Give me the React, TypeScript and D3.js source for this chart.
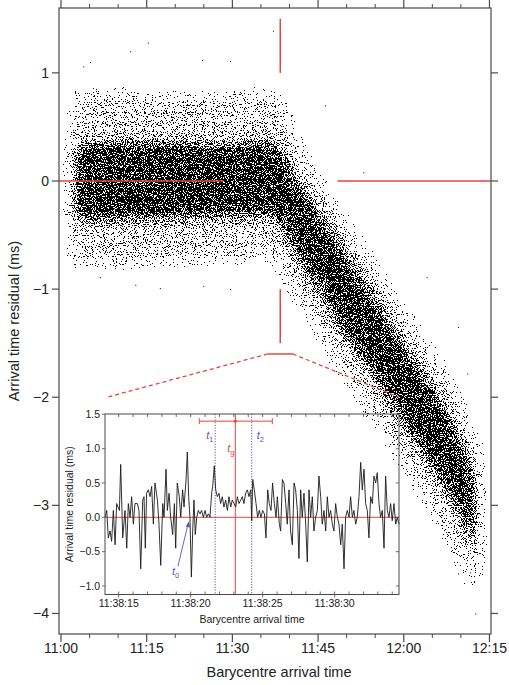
import * as d3 from 'd3';

// Main panel: envelope of the residual cloud (minutes after 11:00, ms)
const bandMinutes = [2.3, 8, 15, 22, 28, 34, 37, 39, 41, 43.5, 48.3, 54.1, 60, 63, 67.6, 70.4, 72.1, 72.8];
const outerHi = [0.78, 0.8, 0.78, 0.76, 0.76, 0.8, 0.78, 0.62, 0.36, 0.12, -0.28, -0.74, -1.22, -1.46, -1.84, -2.16, -2.4, -2.45];
const coreHi = [0.35, 0.36, 0.36, 0.35, 0.34, 0.36, 0.36, 0.24, 0.04, -0.16, -0.54, -1.02, -1.52, -1.76, -2.14, -2.45, -2.68, -2.75];
const coreLo = [-0.38, -0.36, -0.36, -0.34, -0.33, -0.32, -0.32, -0.46, -0.66, -0.86, -1.3, -1.75, -2.24, -2.48, -2.88, -3.14, -3.4, -3.45];
const outerLo = [-0.76, -0.76, -0.74, -0.72, -0.71, -0.7, -0.7, -0.84, -1.04, -1.24, -1.66, -2.1, -2.6, -2.84, -3.24, -3.54, -3.74, -3.78];

// Stray points outside the cloud
const outlierMinutes = [3.9, 5.1, 12.1, 15.2, 24.7, 29.6, 37.1, 46.2, 52.9, 64.0, 69.5, 71.1, 6.8, 13.0, 17.3, 24.9, 29.6, 69.5, 71.6, 72.5];
const outlierValues = [1.06, 1.1, 1.2, 1.28, 1.12, 1.11, 1.39, 0.7, 0.08, -0.89, -1.35, -1.78, -0.89, -0.96, -0.99, -0.97, -1.0, -3.63, -3.62, -4.0];

const mainXTicks = [0, 15, 30, 45, 60, 75];
const mainXLabels = ['11:00', '11:15', '11:30', '11:45', '12:00', '12:15'];
const mainXMinor = [5, 10, 20, 25, 35, 40, 50, 55, 65, 70];
const mainYTicks = [1, 0, -1, -2, -3, -4];

// Inset: seconds after 11:38:00, residual (ms)
const insetSeconds = [14.05, 14.17, 14.28, 14.40, 14.51, 14.63, 14.75, 14.86, 15.05, 15.14, 15.28, 15.44, 15.56, 15.67, 15.79, 15.90, 16.02, 16.13, 16.30, 16.41, 16.53, 16.67, 16.76, 16.85, 16.94, 17.06, 17.18, 17.29, 17.41, 17.52, 17.69, 17.80, 17.92, 18.06, 18.15, 18.29, 18.38, 18.50, 18.61, 18.75, 18.87, 18.96, 19.07, 19.21, 19.31, 19.44, 19.54, 19.68, 19.77, 19.86, 19.95, 20.05, 20.14, 20.23, 20.32, 20.42, 20.53, 20.65, 20.76, 20.88, 21.00, 21.11, 21.23, 21.34, 21.46, 21.53, 21.64, 21.74, 21.85, 21.97, 22.08, 22.20, 22.31, 22.43, 22.55, 22.66, 22.78, 22.89, 23.01, 23.13, 23.24, 23.36, 23.47, 23.59, 23.70, 23.82, 23.94, 24.05, 24.17, 24.24, 24.31, 24.42, 24.54, 24.65, 24.77, 24.88, 25.00, 25.12, 25.23, 25.35, 25.46, 25.58, 25.69, 25.81, 25.93, 26.02, 26.16, 26.25, 26.37, 26.48, 26.60, 26.71, 26.83, 26.94, 27.06, 27.18, 27.29, 27.41, 27.52, 27.64, 27.75, 27.87, 27.99, 28.10, 28.22, 28.33, 28.45, 28.56, 28.68, 28.80, 28.91, 29.03, 29.14, 29.26, 29.38, 29.49, 29.61, 29.72, 29.84, 29.95, 30.07, 30.19, 30.30, 30.42, 30.53, 30.65, 30.76, 30.88, 31.00, 31.11, 31.23, 31.34, 31.46, 31.57, 31.69, 31.81, 31.92, 32.04, 32.15, 32.27, 32.38, 32.50, 32.62, 32.73, 32.85, 32.96, 33.08, 33.19, 33.31, 33.43, 33.54, 33.66, 33.77, 33.89, 34.00, 34.12, 34.24, 34.35, 34.47];
const insetResidual = [0.0, 0.1, -0.3, -0.2, -0.35, 0.1, -0.4, 0.2, 0.1, 0.77, -0.3, 0.1, -0.45, 0.2, 0.0, 0.3, -0.1, 0.2, 0.2, 0.1, -0.75, 0.25, 0.3, -0.45, 0.35, 0.4, 0.3, 0.45, -0.1, 0.5, 0.25, -0.1, -0.7, 0.2, 0.0, 0.7, 0.1, 0.35, 0.0, -0.25, 0.2, -0.45, 0.5, 0.3, 0.0, 0.4, 0.15, 0.55, 0.95, 0.3, 0.0, -0.87, -0.2, 0.25, -0.25, 0.0, 0.1, 0.05, 0.1, 0.0, 0.1, 0.0, 0.05, 0.0, 0.35, 0.45, 0.75, 0.4, 0.3, 0.35, 0.2, 0.3, 0.15, 0.25, 0.1, 0.3, 0.15, 0.25, 0.2, 0.15, 0.3, 0.2, 0.25, 0.3, 0.2, 0.35, 0.4, 0.3, 0.4, -0.05, 0.55, 0.4, 0.2, 0.0, 0.1, 0.0, 0.1, 0.05, -0.3, 0.4, 0.2, 0.1, 0.5, 0.2, 0.0, 0.3, -0.1, -0.2, 0.55, 0.5, 0.2, -0.1, 0.4, -0.2, -0.4, 0.5, 0.4, 0.1, -0.6, 0.4, 0.0, 0.35, -0.1, -0.65, 0.4, 0.0, 0.3, -0.2, 0.0, 0.1, 0.6, 0.3, -0.1, 0.1, -0.2, 0.3, 0.0, 0.1, -0.1, -0.2, 0.2, 0.0, -0.1, -0.4, -0.1, -0.75, 0.0, 0.1, 0.0, 0.3, 0.0, 0.1, -0.1, 0.0, 0.3, 0.8, 0.4, 0.7, 0.2, 0.1, -0.3, 0.3, 0.2, 0.6, 0.5, 0.65, 0.2, 0.0, 0.1, -0.45, 0.6, 0.1, 0.0, 0.2, -0.05, 0.2, -0.1, 0.0, -0.1];

const insetXTicks = [15, 20, 25, 30];
const insetXLabels = ['11:38:15', '11:38:20', '11:38:25', '11:38:30'];
const insetYTicks = [1.5, 1.0, 0.5, 0.0, -0.5, -1.0];

// Glitch epochs
const glitchMinute = 38.38;
const t0Sec = 19.95;
const t1Sec = 21.7;
const tgSec = 23.1;
const t2Sec = 24.24;
const tgErrSec = [20.6, 25.67];
const tgErrLevel = 1.4;

const FONT = '"Liberation Sans", Arial, Helvetica, sans-serif';
const RED = '#e2473f';
const BLUE = '#5656b4';
const AXIS = '#4a4a4a';

export default function App() {
  const x = d3.scaleLinear().domain([-0.35, 75.27]).range([59, 491]);
  const y = d3.scaleLinear().domain([1.6, -4.19]).range([8, 634]);
  const ix = d3.scaleLinear().domain([14.05, 34.47]).range([105, 399]);
  const iy = d3.scaleLinear().domain([1.504, -1.124]).range([414, 594.5]);

  const idx = bandMinutes.map((_, i) => i);
  const band = (hi: number[], lo: number[]) =>
    d3.area<number>()
      .x(i => x(bandMinutes[i]))
      .y0(i => y(lo[i]))
      .y1(i => y(hi[i]))
      .curve(d3.curveMonotoneX)(idx) || '';

  const outerPath = band(outerHi, outerLo);
  const corePath = band(coreHi, coreLo);

  const insetLine = d3.line<number>()
    .x(s => ix(s))
    .y((_, i) => iy(insetResidual[i]))(insetSeconds) || '';

  const [x0, x1] = x.range();
  const [y0, y1] = y.range();
  const insetMinor = d3.range(15, 35, 1);

  return (
    <svg width={509} height={685} style={{ position: 'absolute', left: 0, top: 0 }} fontFamily={FONT}>
      <defs>
        {/* turns a smooth density into a speckle of single dots */}
        <filter id="scatter" filterUnits="userSpaceOnUse" x={50} y={0} width={460} height={650} colorInterpolationFilters="sRGB">
          <feGaussianBlur in="SourceAlpha" stdDeviation={6.5} result="dens" />
          <feTurbulence type="fractalNoise" baseFrequency={0.9} numOctaves={2} seed={7} result="noiseRaw" />
          <feColorMatrix in="noiseRaw" type="matrix" values="0 0 0 0 0  0 0 0 0 0  0 0 0 0 0  2.4 0 0 0 -0.7" result="noise" />
          <feComposite in="dens" in2="noise" operator="arithmetic" k1={0} k2={1} k3={-1} k4={0.47} result="diff" />
          <feComponentTransfer in="diff" result="mask">
            <feFuncA type="discrete" tableValues="0 1" />
          </feComponentTransfer>
          <feFlood floodColor="#000" result="ink" />
          <feComposite in="ink" in2="mask" operator="in" />
        </filter>
      </defs>

      {/* residual cloud */}
      <g filter="url(#scatter)">
        <path d={outerPath} fill="#000" fillOpacity={0.26} />
        <path d={corePath} fill="#000" fillOpacity={0.66} />
      </g>
      {outlierMinutes.map((m, i) => (
        <rect key={i} x={x(m)} y={y(outlierValues[i])} width={1} height={1} fill="#000" />
      ))}

      {/* red annotations */}
      <line x1={x0} x2={x(28.4)} y1={y(0)} y2={y(0)} stroke={RED} strokeWidth={1.5} />
      <line x1={x(48.4)} x2={x1} y1={y(0)} y2={y(0)} stroke={RED} strokeWidth={1.5} />
      <line x1={x(glitchMinute)} x2={x(glitchMinute)} y1={y(1.5)} y2={y(1.0)} stroke={RED} strokeWidth={1.5} />
      <line x1={x(glitchMinute)} x2={x(glitchMinute)} y1={y(-1.0)} y2={y(-1.5)} stroke={RED} strokeWidth={1.5} />
      <line x1={x(glitchMinute - 2.2)} x2={x(glitchMinute + 2.2)} y1={y(-1.6)} y2={y(-1.6)} stroke={RED} strokeWidth={1.5} />
      <line x1={x(glitchMinute - 2.2)} y1={y(-1.6)} x2={ix.range()[0] + 2} y2={y(-2.0)} stroke={RED} strokeWidth={1.3} strokeDasharray="4,3" />
      <line x1={x(glitchMinute + 2.2)} y1={y(-1.6)} x2={ix.range()[1]} y2={y(-2.0)} stroke={RED} strokeWidth={1.3} strokeDasharray="4,3" />

      {/* main frame and axes */}
      <rect x={x0} y={y0} width={x1 - x0} height={y1 - y0} fill="none" stroke={AXIS} strokeWidth={1.2} />
      {mainXTicks.map(t => (
        <g key={t}>
          <line x1={x(t)} x2={x(t)} y1={y0} y2={y0 - 8} stroke={AXIS} strokeWidth={1.2} />
          <line x1={x(t)} x2={x(t)} y1={y1} y2={y1 + 8} stroke={AXIS} strokeWidth={1.2} />
        </g>
      ))}
      {mainXMinor.map(t => (
        <g key={t}>
          <line x1={x(t)} x2={x(t)} y1={y0} y2={y0 - 4} stroke={AXIS} strokeWidth={1} />
          <line x1={x(t)} x2={x(t)} y1={y1} y2={y1 + 4} stroke={AXIS} strokeWidth={1} />
        </g>
      ))}
      {mainXTicks.map((t, i) => (
        <text key={t} x={x(t)} y={653} textAnchor="middle" fontSize={14} fill="#222">{mainXLabels[i]}</text>
      ))}
      {mainYTicks.map(v => (
        <g key={v}>
          <line x1={x0} x2={x0 - 7} y1={y(v)} y2={y(v)} stroke={AXIS} strokeWidth={1.2} />
          <line x1={x1} x2={x1 + 7} y1={y(v)} y2={y(v)} stroke={AXIS} strokeWidth={1.2} />
          <text x={x0 - 10} y={y(v) + 5} textAnchor="end" fontSize={14} fill="#222">
            {v < 0 ? `\u2212${-v}` : `${v}`}
          </text>
        </g>
      ))}
      <text x={(x0 + x1) / 2 + 4} y={677} textAnchor="middle" fontSize={14.5} fill="#222">Barycentre arrival time</text>
      <text transform={`translate(19,${(y0 + y1) / 2}) rotate(-90)`} textAnchor="middle" fontSize={14.5} fill="#222">
        Arrival time residual (ms)
      </text>

      {/* inset */}
      <g>
        <line x1={ix.range()[0]} x2={ix.range()[1]} y1={iy(0)} y2={iy(0)} stroke={RED} strokeWidth={1} />
        <line x1={ix(t1Sec)} x2={ix(t1Sec)} y1={iy.range()[0]} y2={iy.range()[1]} stroke={BLUE} strokeWidth={1} strokeDasharray="1.2,1.5" />
        <line x1={ix(t2Sec)} x2={ix(t2Sec)} y1={iy.range()[0]} y2={iy.range()[1]} stroke={BLUE} strokeWidth={1} strokeDasharray="1.2,1.5" />
        <line x1={ix(tgSec)} x2={ix(tgSec)} y1={iy.range()[0]} y2={iy.range()[1]} stroke={RED} strokeWidth={1} />
        <path d={insetLine} fill="none" stroke="#1a1a1a" strokeWidth={0.9} strokeLinejoin="round" />
        <line x1={ix(tgErrSec[0])} x2={ix(tgErrSec[1])} y1={iy(tgErrLevel)} y2={iy(tgErrLevel)} stroke={RED} strokeWidth={1} />
        {tgErrSec.map(s => (
          <line key={s} x1={ix(s)} x2={ix(s)} y1={iy(tgErrLevel) - 3} y2={iy(tgErrLevel) + 3} stroke={RED} strokeWidth={1} />
        ))}
        <circle cx={ix(tgSec)} cy={iy(tgErrLevel)} r={1.6} fill={RED} />

        <rect x={ix.range()[0]} y={iy.range()[0]} width={ix.range()[1] - ix.range()[0]} height={iy.range()[1] - iy.range()[0]} fill="none" stroke={AXIS} strokeWidth={1} />
        {insetMinor.map(s => (
          <g key={s}>
            <line x1={ix(s)} x2={ix(s)} y1={iy.range()[0]} y2={iy.range()[0] + 3} stroke={AXIS} strokeWidth={0.8} />
            <line x1={ix(s)} x2={ix(s)} y1={iy.range()[1]} y2={iy.range()[1] - 3} stroke={AXIS} strokeWidth={0.8} />
          </g>
        ))}
        {insetXTicks.map((s, i) => (
          <g key={s}>
            <line x1={ix(s)} x2={ix(s)} y1={iy.range()[1]} y2={iy.range()[1] + 3} stroke={AXIS} strokeWidth={0.8} />
            <text x={ix(s)} y={607} textAnchor="middle" fontSize={10.5} fill="#222">{insetXLabels[i]}</text>
          </g>
        ))}
        {insetYTicks.map(v => (
          <g key={v}>
            <line x1={ix.range()[0]} x2={ix.range()[0] - 3} y1={iy(v)} y2={iy(v)} stroke={AXIS} strokeWidth={0.8} />
            <line x1={ix.range()[1]} x2={ix.range()[1] - 3} y1={iy(v)} y2={iy(v)} stroke={AXIS} strokeWidth={0.8} />
            <text x={ix.range()[0] - 5} y={iy(v) + 3.7} textAnchor="end" fontSize={10.5} fill="#222">
              {v < 0 ? `\u2212${(-v).toFixed(1)}` : v.toFixed(1)}
            </text>
          </g>
        ))}
        <text x={(ix.range()[0] + ix.range()[1]) / 2} y={623} textAnchor="middle" fontSize={10.5} fill="#222">Barycentre arrival time</text>
        <text transform={`translate(73,${(iy.range()[0] + iy.range()[1]) / 2}) rotate(-90)`} textAnchor="middle" fontSize={10.5} fill="#222">
          Arrival time residual (ms)
        </text>

        {/* epoch labels */}
        <text x={ix(t1Sec) - 9} y={439} fontSize={11} fill={BLUE} fontStyle="italic">t<tspan fontSize={7.5} dy={2.5} fontStyle="normal">1</tspan></text>
        <text x={ix(t2Sec) + 5} y={439} fontSize={11} fill={BLUE} fontStyle="italic">t<tspan fontSize={7.5} dy={2.5} fontStyle="normal">2</tspan></text>
        <text x={ix(tgSec) - 8} y={452} fontSize={11} fill={RED} fontStyle="italic">t<tspan fontSize={7.5} dy={2.5} fontStyle="normal">g</tspan></text>
        <text x={ix(t0Sec) - 18} y={575} fontSize={11} fill={BLUE} fontStyle="italic">t<tspan fontSize={7.5} dy={2.5} fontStyle="normal">0</tspan></text>
        <line x1={ix(t0Sec) - 12} y1={iy(0) + 49} x2={ix(t0Sec) - 2} y2={iy(0) + 7} stroke={BLUE} strokeWidth={0.9} />
        <path d={`M${ix(t0Sec) - 1},${iy(0) + 4} l-3.2,5.2 l4.4,0.9 z`} fill={BLUE} />
      </g>
    </svg>
  );
}
